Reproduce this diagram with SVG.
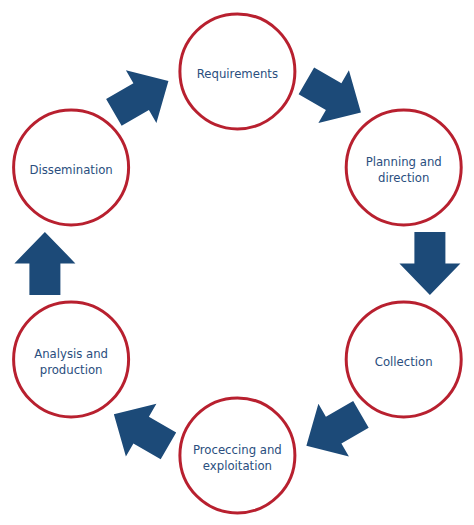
<svg xmlns="http://www.w3.org/2000/svg" xmlns:xlink="http://www.w3.org/1999/xlink" width="474" height="525" viewBox="0 0 474 525">
  <style>
    .node circle { fill: #ffffff; stroke: #b8202f; stroke-width: 3; }
    .node text { font-family: "DejaVu Sans Condensed", "DejaVu Sans", sans-serif; font-size: 13px; fill: #2a4e7e; text-anchor: middle; }
    .arrow { fill: #1c4a78; }
  </style>
  <defs>
    <polygon id="arr" class="arrow" points="177,-31.5 208,-31.5 208,0 223,0 192.5,31.5 162,0 177,0"/>
  </defs>
  <rect width="474" height="525" fill="#ffffff"/>
  <g id="connectors" transform="translate(237.4 263.4)">
    <use xlink:href="#arr" href="#arr" transform="rotate(0)"/>
    <use xlink:href="#arr" href="#arr" transform="rotate(60)"/>
    <use xlink:href="#arr" href="#arr" transform="rotate(120)"/>
    <use xlink:href="#arr" href="#arr" transform="rotate(180)"/>
    <use xlink:href="#arr" href="#arr" transform="rotate(240)"/>
    <use xlink:href="#arr" href="#arr" transform="rotate(300)"/>
  </g>
  <g id="requirements" class="node">
    <circle cx="237.4" cy="71.4" r="57.5"/>
    <text x="237.4" y="78">Requirements</text>
  </g>
  <g id="planning" class="node">
    <circle cx="403.7" cy="167.4" r="57.5"/>
    <text x="403.7" y="166">Planning and</text>
    <text x="403.7" y="181.5">direction</text>
  </g>
  <g id="collection" class="node">
    <circle cx="403.7" cy="359.4" r="57.5"/>
    <text x="403.7" y="366">Collection</text>
  </g>
  <g id="processing" class="node">
    <circle cx="237.4" cy="455.4" r="57.5"/>
    <text x="237.4" y="454">Proceccing and</text>
    <text x="237.4" y="469.5">exploitation</text>
  </g>
  <g id="analysis" class="node">
    <circle cx="71.1" cy="359.4" r="57.5"/>
    <text x="71.1" y="358">Analysis and</text>
    <text x="71.1" y="373.5">production</text>
  </g>
  <g id="dissemination" class="node">
    <circle cx="71.1" cy="167.4" r="57.5"/>
    <text x="71.1" y="174">Dissemination</text>
  </g>
</svg>
